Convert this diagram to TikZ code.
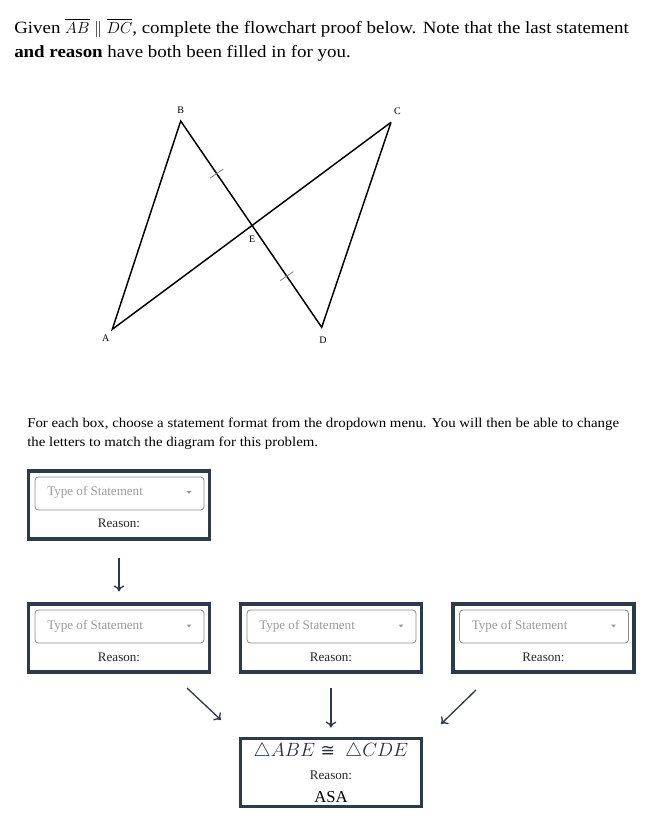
\documentclass[tikz,border=0pt]{standalone}
\usepackage{fontspec}
\usepackage{amssymb}
\setmainfont{Liberation Serif}
\newfontfamily\geo[FakeStretch=1.1]{Liberation Serif}
\newfontfamily\djv{DejaVu Sans}
\usetikzlibrary{calc,arrows.meta}
\definecolor{navy}{HTML}{2D3A4B}
\definecolor{ddgray}{HTML}{8A8A8A}
\definecolor{phgray}{HTML}{9A9A9A}
\begin{document}
\begin{tikzpicture}[x=0.75pt,y=-0.75pt,
  outerbox/.style={draw=navy,line width=2.4pt,minimum width=135.75pt,minimum height=51pt,inner sep=0pt},
  ddbox/.style={draw=ddgray,line width=0.6pt,rounded corners=2.5pt,minimum width=126.75pt,minimum height=24.75pt,inner sep=0pt},
  ph/.style={text=phgray,font=\fontsize{9.8}{11}\selectfont,anchor=west,inner sep=0pt},
  reason/.style={text=black!85,font=\fontsize{9.8}{11}\selectfont,inner sep=0pt},
  caret/.style={fill=phgray,draw=none},
  arr/.style={draw=navy,line width=1pt,-{Computer Modern Rightarrow[length=4.5pt,width=8pt]}},
  seg/.style={draw=black,line width=1.1pt},
  tick/.style={draw=gray,line width=0.6pt},
  pt/.style={font=\fontsize{7.5}{8}\selectfont,inner sep=0pt},
  txt/.style={anchor=base west,inner sep=0pt}]
\useasboundingbox (0,0) rectangle (666,835);
% title
\node[txt,font=\geo\fontsize{12.9}{14}\selectfont] (t1) at (14,33) {Given $\overline{AB}\parallel\overline{DC}$, complete the flowchart proof below. Note that the last statement};
\node[txt,font=\geo\fontsize{12.9}{14}\selectfont] (t2) at (14,57) {\textbf{and reason} have both been filled in for you.};
% figure
\coordinate (A) at (112.3,329.3);
\coordinate (B) at (180.7,121);
\coordinate (C) at (391,122.3);
\coordinate (D) at (321.7,327.3);
\coordinate (E) at (252.3,225);
\draw[seg,line join=miter] (C) -- (A) -- (B) -- (D) -- (C);
\coordinate (k1) at ($(B)!0.255!(D)$);
\coordinate (k2) at ($(B)!0.752!(D)$);
\draw[tick] ($(k1)!6pt!90:(D)$) -- ($(k1)!6pt!-90:(D)$);
\draw[tick] ($(k2)!6pt!90:(D)$) -- ($(k2)!6pt!-90:(D)$);
\node[pt] (lA) at (105.7,338) {A};
\node[pt] (lB) at (180.7,110.5) {B};
\node[pt] (lC) at (397.5,111.5) {C};
\node[pt] (lD) at (323,340.5) {D};
\node[pt] (lE) at (252.3,239) {E};
% description
\node[txt,font=\geo\fontsize{10.13}{12}\selectfont] (d1) at (27,427.5) {For each box, choose a statement format from the dropdown menu. You will then be able to change};
\node[txt,font=\geo\fontsize{10.13}{12}\selectfont] (d2) at (27,446.5) {the letters to match the diagram for this problem.};
% box 1
\node[outerbox] (b1) at (119,505) {};
\node[ddbox] (dd1) at (119.5,493.5) {};
\node[ph] (p1) at (47,492.5) {Type of Statement};
\fill[caret] (186.5,491) -- (191.5,491) -- (189,494) -- cycle;
\node[reason] (r1) at (119,523) {Reason:};
% row 2
\foreach \n/\cx in {2/119,3/331,4/543.5}{
  \node[outerbox] (b\n) at (\cx,638) {};
  \node[ddbox] (dd\n) at (\cx+0.5,626.5) {};
  \node[ph] (p\n) at (\cx-72,626) {Type of Statement};
  \fill[caret] (\cx+67.5,624.5) -- (\cx+72.5,624.5) -- (\cx+70,627.5) -- cycle;
  \node[reason] (r\n) at (\cx,657) {Reason:};
}
% final box
\node[outerbox] (b5) at (331,772.5) {};
\node[inner sep=0pt,font=\fontsize{14.5}{16}\selectfont,text=navy!80!black] (s5) at (331,751.5) {$\triangle ABE\mathrel{\hbox{\djv\fontsize{13}{14}\selectfont ≅}}\ \triangle CDE$};
\node[reason] (r5) at (331,775.5) {Reason:};
\node[inner sep=0pt,font=\fontsize{12.5}{14}\selectfont] (a5) at (331,797) {ASA};
% arrows
\draw[arr,shorten <=12.75pt,shorten >=8.25pt] (b1.south) -- (b2.north);
\draw[arr,shorten <=11pt,shorten >=7pt] (b3.south) -- (b5.north);
\coordinate (q1) at (187,688);
\coordinate (q2) at (221,720);
\coordinate (q3) at (476,690);
\coordinate (q4) at (441,724);
\draw[arr] (q1) -- (q2);
\draw[arr] (q3) -- (q4);
\end{tikzpicture}
\end{document}
